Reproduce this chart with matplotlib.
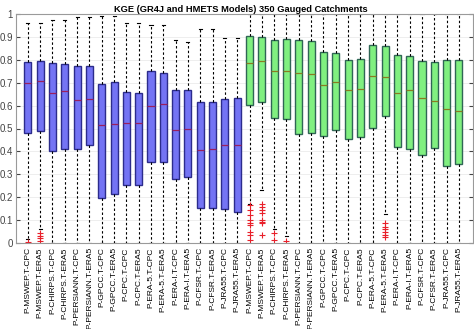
import matplotlib
matplotlib.use('Agg')
import matplotlib.pyplot as plt

plt.rcParams['font.family'] = ['Liberation Sans', 'DejaVu Sans']

combos = ["P-MSWEP.T-CPC", "P-MSWEP.T-ERA5", "P-CHIRPS.T-CPC", "P-CHIRPS.T-ERA5",
          "P-PERSIANN.T-CPC", "P-PERSIANN.T-ERA5", "P-GPCC.T-CPC", "P-GPCC.T-ERA5",
          "P-CPC.T-CPC", "P-CPC.T-ERA5", "P-ERA-5.T-CPC", "P-ERA-5.T-ERA5",
          "P-ERA-I.T-CPC", "P-ERA-I.T-ERA5", "P-CFSR.T-CPC", "P-CFSR.T-ERA5",
          "P-JRA55.T-CPC", "P-JRA55.T-ERA5"]
labels = combos + combos

# GR4J (blue) then HMETS (green)
whishi = [0.962, 0.962, 0.974, 0.974, 0.988, 0.985, 0.993, 0.993, 0.962,
          0.962, 0.950, 0.950, 0.886, 0.879, 0.933, 0.933, 0.896, 0.896,
          0.998, 0.998, 0.998, 0.998, 0.998, 0.998, 0.998, 0.998, 0.998,
          0.998, 0.998, 0.998, 0.998, 0.998, 0.998, 0.998, 0.998, 0.998]
q3 = [0.791, 0.793, 0.784, 0.782, 0.771, 0.774, 0.696, 0.702, 0.660,
      0.657, 0.749, 0.743, 0.667, 0.670, 0.616, 0.617, 0.630, 0.635,
      0.904, 0.901, 0.886, 0.891, 0.888, 0.883, 0.832, 0.831, 0.797,
      0.803, 0.864, 0.860, 0.822, 0.816, 0.796, 0.790, 0.800, 0.800]
med = [0.700, 0.707, 0.655, 0.663, 0.623, 0.630, 0.517, 0.518, 0.524,
       0.523, 0.600, 0.609, 0.492, 0.496, 0.407, 0.409, 0.430, 0.430,
       0.788, 0.796, 0.750, 0.750, 0.742, 0.737, 0.689, 0.702, 0.670,
       0.672, 0.731, 0.723, 0.654, 0.670, 0.635, 0.622, 0.587, 0.578]
q1 = [0.480, 0.489, 0.400, 0.409, 0.412, 0.426, 0.195, 0.213, 0.253,
      0.253, 0.352, 0.352, 0.279, 0.290, 0.151, 0.151, 0.148, 0.137,
      0.604, 0.615, 0.547, 0.542, 0.474, 0.482, 0.466, 0.493, 0.453,
      0.461, 0.504, 0.555, 0.420, 0.410, 0.384, 0.415, 0.336, 0.346]
whislo = [0.017, 0.060, 0.0, 0.0, 0.0, 0.0, 0.0, 0.0, 0.0,
          0.0, 0.0, 0.0, 0.0, 0.0, 0.0, 0.0, 0.0, 0.0,
          0.170, 0.231, 0.060, 0.030, 0.0, 0.0, 0.0, 0.0, 0.0,
          0.0, 0.0, 0.127, 0.0, 0.0, 0.0, 0.0, 0.0, 0.0]
fliers = {
    0: [0.004],
    1: [0.045, 0.03, 0.02, 0.01],
    18: [0.166, 0.144, 0.122, 0.10, 0.086, 0.079, 0.05, 0.035, 0.013],
    19: [0.17, 0.159, 0.144, 0.13, 0.10, 0.093, 0.086, 0.035],
    20: [0.042, 0.013],
    21: [0.008],
    29: [0.089, 0.071, 0.06, 0.049, 0.035, 0.025],
}

fig = plt.figure(figsize=(4.74, 3.29), dpi=100)
ax = fig.add_axes([15.5 / 474, 1 - 243 / 329, (472.5 - 15.5) / 474, 229 / 329])

stats = []
for i in range(len(labels)):
    stats.append({"med": med[i], "q1": q1[i], "q3": q3[i],
                  "whislo": whislo[i], "whishi": whishi[i],
                  "fliers": fliers.get(i, [])})

n = len(combos)
groups = [(stats[:n], range(1, n + 1), '#7474f4', '#2c2c8c', '#9a1f5e'),
          (stats[n:], range(n + 1, 2 * n + 1), '#80f080', '#2f6655', '#8a7a22')]
for st, pos, fc, ec, mc in groups:
    ax.bxp(st, positions=list(pos), widths=0.57, patch_artist=True,
           boxprops=dict(facecolor=fc, edgecolor=ec, linewidth=1.0),
           medianprops=dict(color=mc, linewidth=0.9),
           whiskerprops=dict(color='black', linestyle=(0, (2.2, 2.0)), linewidth=0.8),
           capprops=dict(color='black', linewidth=0.8),
           capwidths=0.25,
           flierprops=dict(marker='+', markeredgecolor='#e8202a', markersize=4,
                           markeredgewidth=0.8, linestyle='none'))

ax.set_xlim(0.0, 2 * n + 1.1)
ax.set_ylim(0, 1)
ax.set_yticks([i / 10 for i in range(11)])
ax.set_yticklabels(['0'] + [f'{i / 10:.1f}' for i in range(1, 10)] + ['1'], fontsize=7)
ax.set_xticks(range(1, 2 * n + 1))
ax.set_xticklabels(labels, rotation=90, fontsize=6.0)
ax.tick_params(axis='y', right=True, direction='in', length=3, pad=2, colors='#444444')
ax.tick_params(axis='x', length=0, pad=3)
ax.yaxis.grid(True, color='#ebebeb', linewidth=0.6)
ax.set_axisbelow(True)
for s in ax.spines.values():
    s.set_color('#9a9a9a')
    s.set_linewidth(0.8)

fig.text(0.507, 0.985, 'KGE (GR4J and HMETS Models) 350 Gauged Catchments',
         ha='center', va='top', fontsize=6.7, fontweight='bold')

fig.savefig('out.png', dpi=100)
